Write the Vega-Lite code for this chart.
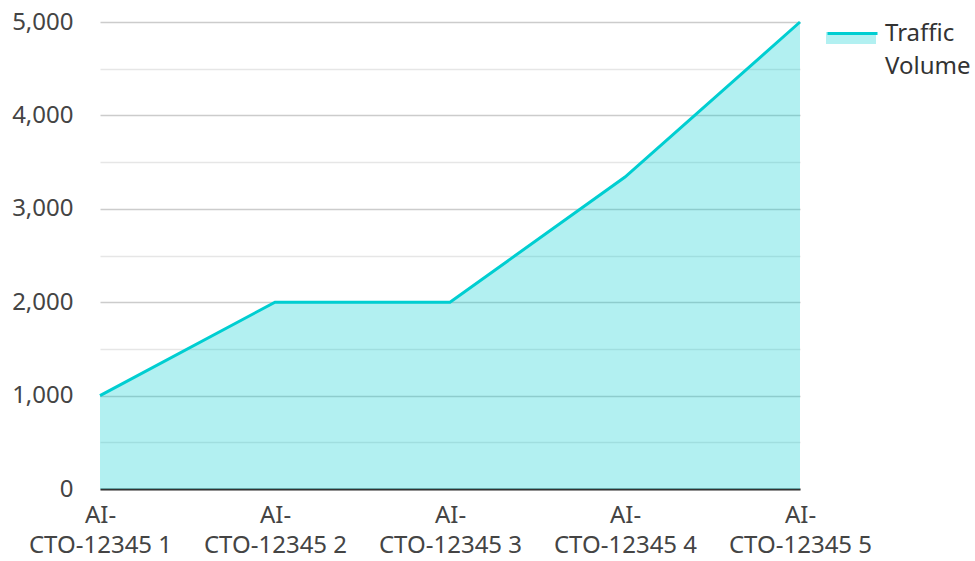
{
  "$schema": "https://vega.github.io/schema/vega-lite/v6.json",
  "width": 700,
  "height": 467,
  "autosize": {"type": "none"},
  "padding": {"left": 100, "top": 22, "right": 175, "bottom": 72},
  "config": {"font": "Noto Sans", "view": {"stroke": null}},
  "data": {
    "values": [
      {"code": "AI-CTO-12345 1", "volume": 1000},
      {"code": "AI-CTO-12345 2", "volume": 2000},
      {"code": "AI-CTO-12345 3", "volume": 2000},
      {"code": "AI-CTO-12345 4", "volume": 3340},
      {"code": "AI-CTO-12345 5", "volume": 5000}
    ]
  },
  "encoding": {
    "x": {
      "field": "code", "type": "ordinal", "sort": null,
      "scale": {"type": "point", "padding": 0},
      "axis": {
        "title": null, "labelAngle": 0, "ticks": false, "grid": false,
        "domain": true, "domainColor": "#333333", "domainWidth": 2,
        "labelFontSize": 24, "labelColor": "#444444",
        "labelExpr": "['AI-', slice(datum.label, 3)]",
        "labelLineHeight": 30, "labelPadding": 14,
        "labelOverlap": false, "labelBound": false, "labelFlush": false
      }
    },
    "y": {
      "field": "volume", "type": "quantitative",
      "scale": {"domain": [0, 5000], "nice": false},
      "axis": {
        "title": null, "values": [0, 500, 1000, 1500, 2000, 2500, 3000, 3500, 4000, 4500, 5000],
        "labelExpr": "datum.value % 1000 === 0 ? datum.label : ''",
        "grid": true,
        "gridColor": {"condition": {"test": "datum.value % 1000 === 0", "value": "#cccccc"}, "value": "#e6e6e6"},
        "gridWidth": 1.5,
        "ticks": false, "domain": false, "labelPadding": 27,
        "labelFontSize": 24, "labelColor": "#444444"
      }
    }
  },
  "layer": [
    {
      "mark": {"type": "area", "fillOpacity": 0.3},
      "encoding": {
        "fill": {
          "datum": "Traffic Volume area",
          "scale": {"range": ["#00CED1"]},
          "legend": {
            "orient": "none", "legendX": 726, "legendY": -15, "title": null,
            "symbolType": "M-1,0H1V0.48H-1Z", "symbolSize": 2500,
            "symbolOpacity": 0.3, "symbolStrokeWidth": 0,
            "labelExpr": "''"
          }
        }
      }
    },
    {
      "mark": {"type": "line", "strokeWidth": 3},
      "encoding": {
        "stroke": {
          "datum": "Traffic Volume",
          "scale": {"range": ["#00CED1"]},
          "legend": {
            "orient": "none", "legendX": 726, "legendY": -15, "title": null,
            "symbolType": "M-1,0H1", "symbolSize": 2500, "symbolStrokeWidth": 3,
            "labelExpr": "['Traffic', 'Volume']", "labelFontSize": 24,
            "labelColor": "#333333", "labelOffset": 6, "labelLimit": 200,
            "encode": {"labels": {"update": {"lineHeight": {"value": 33}}}}
          }
        }
      }
    }
  ]
}
